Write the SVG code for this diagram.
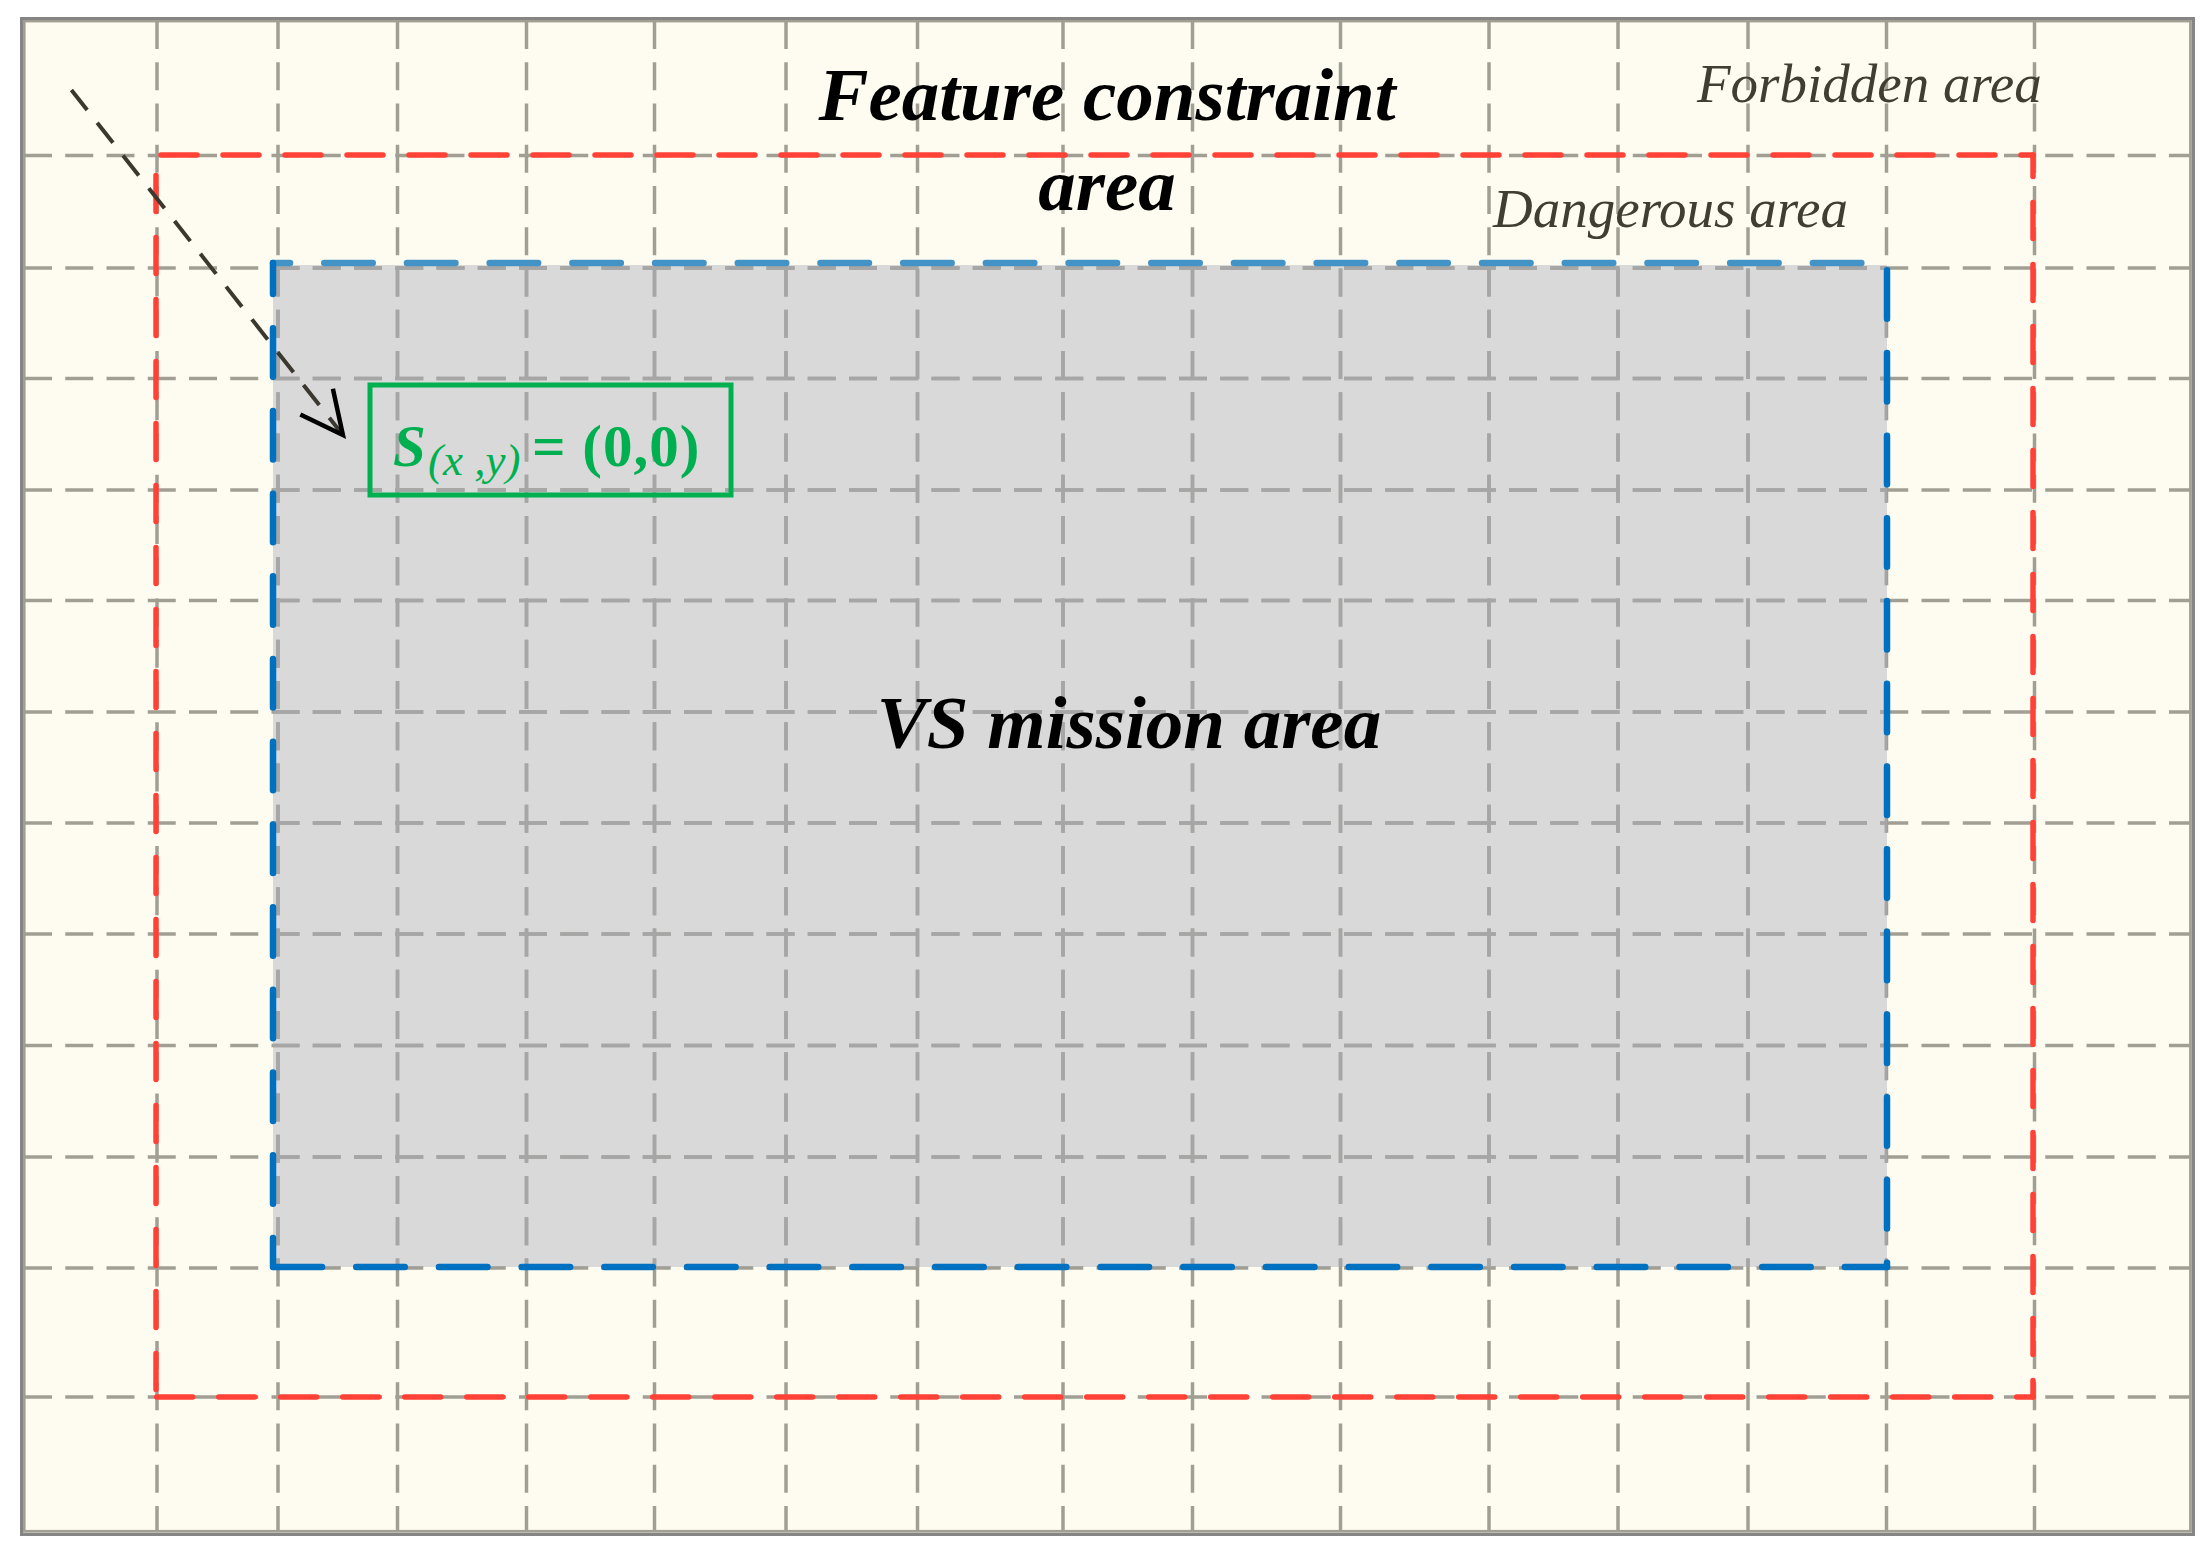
<svg xmlns="http://www.w3.org/2000/svg" xmlns:xlink="http://www.w3.org/1999/xlink" width="2212" height="1555" viewBox="0 0 2212 1555">
<style>
  .gl { stroke-width: 3.5; stroke-dasharray: 28 13.25; fill: none; }
  .red { stroke: #ff4136; stroke-width: 5.5; stroke-linecap: round; stroke-dasharray: 36 26; fill: none; }
  .blue { stroke: #0070c0; stroke-width: 6.5; stroke-linecap: round; stroke-dasharray: 48.5 34.2; fill: none; }
  .serif { font-family: "Liberation Serif", "Times New Roman", serif; }
  .title { font-size: 75px; font-weight: bold; font-style: italic; fill: #000; }
  .label { font-size: 55px; font-style: italic; fill: #403e33; }
  .green { fill: #00b050; }
</style>
<defs>
  <clipPath id="clipGray"><rect x="273" y="265" width="1614" height="1002"/></clipPath>
  <g id="gridLines">
    <line class="gl" x1="157" y1="21" x2="157" y2="1531"/>
    <line class="gl" x1="278" y1="21" x2="278" y2="1531"/>
    <line class="gl" x1="397.5" y1="21" x2="397.5" y2="1531"/>
    <line class="gl" x1="526.5" y1="21" x2="526.5" y2="1531"/>
    <line class="gl" x1="654.5" y1="21" x2="654.5" y2="1531"/>
    <line class="gl" x1="786" y1="21" x2="786" y2="1531"/>
    <line class="gl" x1="917.5" y1="21" x2="917.5" y2="1531"/>
    <line class="gl" x1="1063" y1="21" x2="1063" y2="1531"/>
    <line class="gl" x1="1192.5" y1="21" x2="1192.5" y2="1531"/>
    <line class="gl" x1="1340.5" y1="21" x2="1340.5" y2="1531"/>
    <line class="gl" x1="1489" y1="21" x2="1489" y2="1531"/>
    <line class="gl" x1="1618" y1="21" x2="1618" y2="1531"/>
    <line class="gl" x1="1748" y1="21" x2="1748" y2="1531"/>
    <line class="gl" x1="1886.5" y1="21" x2="1886.5" y2="1531"/>
    <line class="gl" x1="2034.5" y1="21" x2="2034.5" y2="1531"/>
    <line class="gl" x1="24" y1="155.5" x2="2190" y2="155.5"/>
    <line class="gl" x1="24" y1="268" x2="2190" y2="268"/>
    <line class="gl" x1="24" y1="378.5" x2="2190" y2="378.5"/>
    <line class="gl" x1="24" y1="490" x2="2190" y2="490"/>
    <line class="gl" x1="24" y1="600.5" x2="2190" y2="600.5"/>
    <line class="gl" x1="24" y1="712" x2="2190" y2="712"/>
    <line class="gl" x1="24" y1="823" x2="2190" y2="823"/>
    <line class="gl" x1="24" y1="934" x2="2190" y2="934"/>
    <line class="gl" x1="24" y1="1045.5" x2="2190" y2="1045.5"/>
    <line class="gl" x1="24" y1="1157" x2="2190" y2="1157"/>
    <line class="gl" x1="24" y1="1268" x2="2190" y2="1268"/>
    <line class="gl" x1="24" y1="1397" x2="2190" y2="1397"/>
  </g>
  <marker id="arrowHead" markerUnits="userSpaceOnUse" viewBox="-50 -26 56 52" refX="0" refY="0" markerWidth="56" markerHeight="52" orient="auto" style="overflow:visible">
    <path d="M-42.5,-20.7 L0,0 L-42.5,20.7" fill="none" stroke="#000" stroke-width="4.5"/>
  </marker>
</defs>

<g id="background">
  <rect x="0" y="0" width="2212" height="1555" fill="#ffffff"/>
  <rect x="22" y="19" width="2171" height="1515" fill="#fefcf0"/>
</g>

<g id="mission-area-fill">
  <rect x="273" y="265" width="1614" height="1002" fill="#d9d9d9"/>
</g>

<g id="grid">
  <use xlink:href="#gridLines" href="#gridLines" stroke="#a19e94"/>
  <use xlink:href="#gridLines" href="#gridLines" stroke="#a6a6a6" clip-path="url(#clipGray)"/>
</g>

<g id="frame">
  <rect x="24.2" y="21" width="2166.3" height="1510.3" fill="none" stroke="#a19e94" stroke-width="2.8"/>
  <rect x="21.5" y="18.5" width="2172" height="1516" fill="none" stroke="#858585" stroke-width="3"/>
</g>

<g id="forbidden-area">
  <text class="serif label" x="1697" y="102">Forbidden area</text>
</g>

<g id="dangerous-area">
  <path class="red" d="M156,155 H2033" stroke-dashoffset="57"/>
  <path class="red" d="M2033,155 V1397" stroke-dashoffset="14.5"/>
  <path class="red" d="M156,1397 H2033" stroke-dashoffset="61.3"/>
  <path class="red" d="M156,155 V1397" stroke-dashoffset="41.5"/>
  <text class="serif label" x="1493" y="227">Dangerous area</text>
</g>

<g id="feature-constraint-area">
  <text class="serif title" x="1107" y="120" text-anchor="middle">Feature constraint</text>
  <text class="serif title" x="1107" y="210" text-anchor="middle">area</text>
</g>

<g id="vs-mission-area">
  <path class="blue" d="M273,263 H1887" style="stroke:#4393c6" stroke-dashoffset="31.45"/>
  <path class="blue" d="M273,263 V1267" stroke-dashoffset="17.45"/>
  <path class="blue" d="M1887,263 V1267" stroke-dashoffset="75.45"/>
  <path class="blue" d="M273,1267 H1887" stroke-dashoffset="82.15"/>
  <text class="serif title" x="1129" y="748" text-anchor="middle">VS mission area</text>
</g>

<g id="start-state">
  <rect x="370" y="385" width="361" height="110" fill="none" stroke="#00b050" stroke-width="5"/>
  <text class="serif green" y="466"><tspan x="393" font-size="59" font-weight="bold" font-style="italic">S</tspan><tspan x="428" y="475" font-size="45" font-style="italic">(x ,y)</tspan><tspan x="532" y="466" font-size="59" font-weight="bold" letter-spacing="1">= (0,0)</tspan></text>
</g>

<g id="connectors">
  <line x1="71.4" y1="90" x2="342.9" y2="435" stroke="#3b392f" stroke-width="4" stroke-dasharray="25.5 16.2" marker-end="url(#arrowHead)"/>
</g>
</svg>
